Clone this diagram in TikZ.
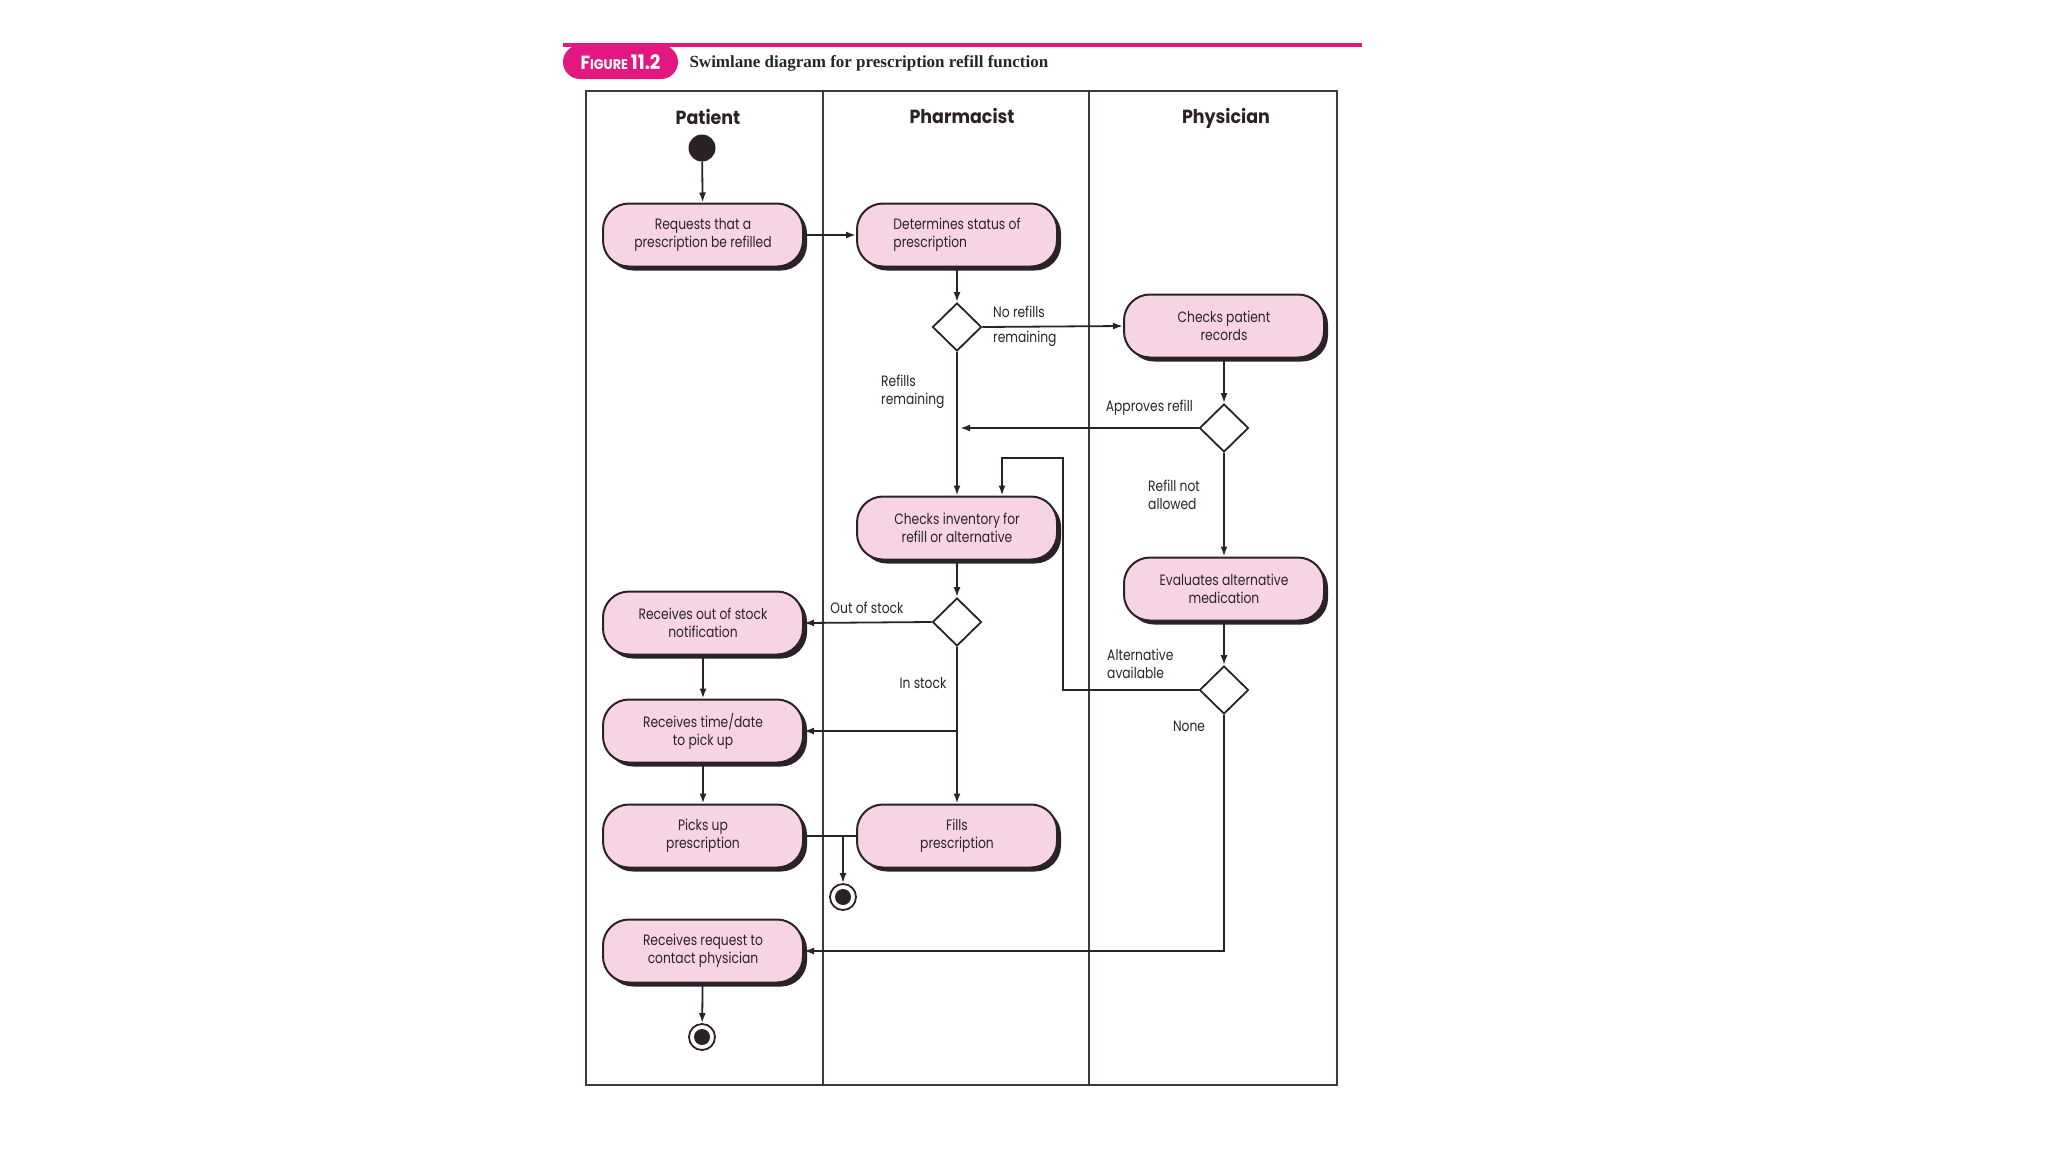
\documentclass[tikz,border=0pt]{standalone}
\usepackage{fontspec}
\newfontfamily\actfont[FakeStretch=0.82]{Poppins}
\newfontfamily\lanefont[FakeStretch=0.92]{Poppins}
\newfontfamily\capfont{Liberation Serif}
\usetikzlibrary{shapes.geometric, arrows.meta, shadows, positioning}
\definecolor{actpink}{HTML}{F7D4E4}
\definecolor{figmagenta}{HTML}{E2177F}
\definecolor{inkdark}{HTML}{2B2228}
\tikzset{>=latex}
\tikzset{
  activity/.style={rectangle, rounded corners=26pt, draw=inkdark, line width=2pt, fill=actpink,
    minimum width=200pt, minimum height=63pt, inner sep=2pt, align=center, text=inkdark,
    font=\actfont\fontsize{15}{18}\selectfont,
    drop shadow={shadow xshift=4pt, shadow yshift=-4pt, fill=inkdark, opacity=1}},
  decision/.style={diamond, draw=inkdark, line width=1.8pt, fill=white, minimum width=49pt,
    minimum height=48pt, inner sep=0pt},
  initial/.style={circle, fill=inkdark, minimum size=27pt, inner sep=0pt},
  final/.style={circle, draw=inkdark, line width=1.8pt, fill=white, minimum size=26pt, inner sep=0pt,
    path picture={\fill[inkdark] (path picture bounding box.center) circle (8pt);}},
  flow/.style={-{Latex[length=10pt,width=7pt]}, line width=1.8pt, draw=inkdark},
  plain/.style={line width=1.8pt, draw=inkdark},
  lane/.style={line width=2.2pt, draw=inkdark!90},
  lanetitle/.style={font=\lanefont\bfseries\fontsize{19}{21}\selectfont, text=inkdark, anchor=base},
  guard/.style={font=\actfont\fontsize{15}{18}\selectfont, text=inkdark, align=left, inner sep=0pt}
}

\begin{document}
\begin{tikzpicture}[x=1pt, y=-1pt]
\useasboundingbox (0,0) rectangle (2048,1152);

% caption bar
\draw[figmagenta, line width=3.5pt] (563,45) -- (1362,45);
\node[fill=figmagenta, rounded corners=17pt, minimum width=115pt, minimum height=34pt, text=white,
  font=\lanefont\bfseries] (fignum) at (620.5,62) {\fontsize{19}{19}\selectfont F\fontsize{14}{14}\selectfont IGURE\ \fontsize{20}{20}\selectfont 11.2};
\node[anchor=west, font=\capfont\bfseries\fontsize{17}{20}\selectfont, text=inkdark] (caption) at (686,63)
  {Swimlane diagram for prescription refill function};

% lanes
\draw[lane] (586,91) rectangle (1337,1085);
\foreach \x in {823,1089} {
  \draw[lane] (\x,91) -- (\x,1085);
}
\node[lanetitle] (patient) at (708,124) {Patient};
\node[lanetitle] (pharmacist) at (962,123) {Pharmacist};
\node[lanetitle] (physician) at (1226,123) {Physician};

% patient
\node[initial] (start) at (702,148) {};
\node[activity] (req) at (703,235) {Requests that a\\prescription be refilled};
\node[activity] (rcvout) at (703,623) {Receives out of stock\\notification};
\node[activity] (rcvtime) at (703,731) {Receives time/date\\to pick up};
\node[activity] (pickup) at (703,836) {Picks up\\prescription};
\node[activity] (rcvreq) at (703,951) {Receives request to\\contact physician};
\node[final] (end2) at (702,1037) {};

% pharmacist
\node[activity, align=left] (det) at (957,235) {Determines status of\\prescription};
\node[decision] (d1) at (957,327) {};
\node[activity] (chkinv) at (957,528) {Checks inventory for\\refill or alternative};
\node[decision] (d4) at (957,622) {};
\node[activity] (fills) at (957,836) {Fills\\prescription};
\node[final] (end1) at (843,897) {};

% physician
\node[activity] (chkrec) at (1224,326) {Checks patient\\records};
\node[decision] (d2) at (1224,428) {};
\node[activity] (eval) at (1224,589) {Evaluates alternative\\medication};
\node[decision] (d3) at (1224,690) {};

% helper points
\coordinate (merge) at (960,428);
\coordinate (loopR) at (1063,458);
\coordinate (loopL) at (1002,458);
\coordinate (join) at (843,836);

% flows
\draw[flow] (start) -- (req);
\draw[flow] (req) -- (det);
\draw[flow] (det) -- (d1);
\draw[flow] (d1.east) -- (chkrec.west);
\draw[flow] (chkrec) -- (d2);
\draw[flow] (d2.west) -- (merge);
\draw[flow] (d1.south) -- (chkinv.north);
\draw[flow] (d2.south) -- (eval.north);
\draw[flow] (eval) -- (d3);
\draw[flow] (d3.west) -| (loopR) -- (loopL) -- (loopL |- chkinv.north);
\draw[flow] (d3.south) |- (rcvreq.east);
\draw[flow] (chkinv) -- (d4);
\draw[flow] (d4.west) -- (rcvout.east);
\draw[flow] (d4.south) -- (fills.north);
\draw[flow] (d4 |- rcvtime) -- (rcvtime.east);
\draw[flow] (rcvout) -- (rcvtime);
\draw[flow] (rcvtime) -- (pickup);
\draw[plain] (pickup.east) -- (fills.west);
\draw[flow] (join) -- (end1.north);
\draw[flow] (rcvreq) -- (end2);

% guards
\node[guard, anchor=west] (g1) at (993,326) {No refills\\[7pt]remaining};
\node[guard, anchor=west] (g2) at (881,392) {Refills\\remaining};
\node[guard, anchor=east] (g3) at (1193,408) {Approves refill};
\node[guard, anchor=west] (g4) at (1148,495) {Refill not\\allowed};
\node[guard, anchor=west] (g5) at (1107,664) {Alternative\\available};
\node[guard] (g6) at (1189,726) {None};
\node[guard] (g7) at (867,608) {Out of stock};
\node[guard] (g8) at (923,683) {In stock};

\end{tikzpicture}
\end{document}
